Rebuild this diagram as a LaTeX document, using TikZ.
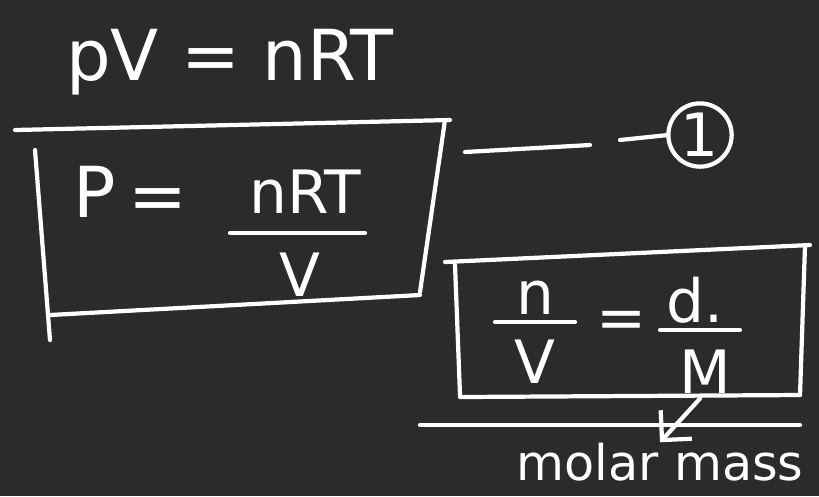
\documentclass[tikz,border=0pt]{standalone}
\usepackage{fontspec}
\usetikzlibrary{arrows.meta}
\setmainfont{DejaVu Sans}
\definecolor{board}{HTML}{2A2B2D}
\begin{document}
\begin{tikzpicture}[x=0.01cm,y=-0.01cm,
  ink/.style={draw=white,line width=1.2pt,line cap=round,line join=round},
  txt/.style={text=white,inner sep=0pt},
  big/.style={txt,font=\fontsize{20}{24}\selectfont},
  mid/.style={txt,font=\fontsize{17}{20}\selectfont}]
\fill[board] (0,0) rectangle (819,496);
\useasboundingbox (0,0) rectangle (819,496);
\node[big] (eq) at (230,62) {pV = nRT};
\draw[ink] (15,130) -- (450,120);
% box 1
\draw[ink] (35,150) -- (50,340);
\draw[ink] (50,315) -- (420,295);
\draw[ink] (445,120) -- (420,292);
\node[big] (P) at (95,192) {P};
\node[big] (eq1) at (158,205) {=};
\node[mid] (num1) at (305,192) {nRT};
\draw[ink] (230,233) -- (365,233);
\node[mid] (den1) at (300,275) {V};
% dashes and circle
\draw[ink] (465,152) -- (590,145);
\draw[ink] (620,140) -- (668,135);
\node[ink,circle,minimum size=18pt,inner sep=0pt,mid] (c1) at (700,135) {1};
% box 2
\draw[ink] (445,262) -- (810,245);
\draw[ink] (455,265) -- (460,395);
\draw[ink] (805,245) -- (800,395);
\draw[ink] (460,397) -- (800,395);
\draw[ink] (420,425) -- (800,425);
\node[mid] (n2) at (535,298) {n};
\draw[ink] (495,322) -- (575,322);
\node[mid] (V2) at (535,362) {V};
\node[mid] (eq2) at (622,325) {=};
\node[mid] (d2) at (695,300) {d.};
\draw[ink] (660,330) -- (740,330);
\node[mid] (M2) at (705,372) {M};
\node[txt,font=\fontsize{14}{17}\selectfont] (lab) at (660,462) {molar mass};
\draw[ink,-{Straight Barb[length=6pt]}] (M2.south) ++(-5,4) coordinate (s) -- (lab.north);
\end{tikzpicture}
\end{document}
